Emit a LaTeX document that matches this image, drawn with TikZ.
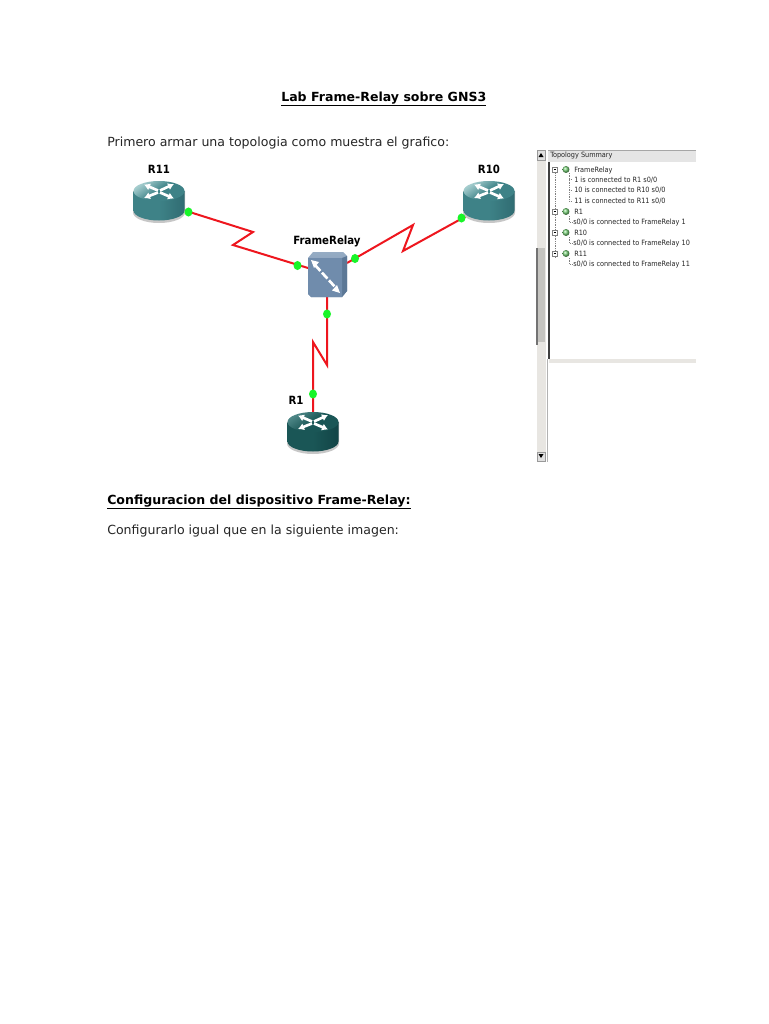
\documentclass[tikz,border=0pt]{standalone}
\usepackage{fontspec}
\setmainfont{DejaVu Sans}
\newfontfamily\condfont{DejaVu Sans Condensed}
\usetikzlibrary{calc,arrows.meta,shapes.geometric}
\definecolor{wire}{RGB}{238,22,30}
\definecolor{port}{RGB}{24,245,40}
\definecolor{tealA}{RGB}{62,130,135}
\definecolor{tealB}{RGB}{165,205,206}
\definecolor{tealC}{RGB}{48,108,114}
\definecolor{darkA}{RGB}{26,86,86}
\definecolor{darkB}{RGB}{78,135,135}
\definecolor{darkC}{RGB}{18,68,70}
\definecolor{switchF}{RGB}{112,140,172}
\definecolor{switchT}{RGB}{150,172,196}
\definecolor{switchS}{RGB}{92,120,150}
\definecolor{panelG}{RGB}{232,230,226}
\tikzset{
  x=0.75pt,y=-0.75pt,
  body/.style={font=\fontsize{9.42}{11}\selectfont,anchor=base west,inner sep=0pt,text=black!85},
  head/.style={font=\fontsize{9.42}{11}\selectfont\bfseries,anchor=base west,inner sep=0pt,text=black},
  devlabel/.style={font=\condfont\fontsize{8.5}{11}\selectfont\bfseries,inner sep=0pt,anchor=base,text=black},
  treetext/.style={font=\condfont\fontsize{5.44}{6}\selectfont,anchor=base west,inner sep=0pt,text=black!85},
  wireline/.style={draw=wire,line width=1.5pt,line join=miter},
  portdot/.style={ellipse,fill=port,inner sep=0pt,minimum width=6pt,minimum height=6.8pt},
  hit/.style={inner sep=0pt,minimum width=39pt,minimum height=31.5pt},
  treeline/.style={draw=black!50,line width=0.3pt,densely dotted},
  ledball/.style={circle,inner sep=0pt,minimum size=5.2pt,ball color=green!50!gray!70!white},
  expander/.style={draw=black!50,line width=0.3pt,fill=white,inner sep=0pt,minimum size=3.6pt},
  whitearrow/.style={draw=white,line width=2pt,-{Latex[length=4.5pt,width=5.5pt]}}
}
% router: name, cx, top y, body colour, light colour, edge colour
\newcommand{\routerdev}[6]{%
  \node[hit] (#1) at (#2,#3+21) {};
  \begin{scope}[shift={(#2,#3)}]
    \fill[black!22] (-26,10) -- (-26,31.5) arc[x radius=26,y radius=10.5,start angle=180,end angle=0] -- (26,10) -- cycle;
    \shade[left color=#4,right color=#6,middle color=#4] (-25.5,10) -- (-25.5,29.5) arc[x radius=25.5,y radius=10,start angle=180,end angle=0] -- (25.5,10) -- cycle;
    \shade[left color=#5,right color=#4,middle color=#4,shading angle=35] (0,10) ellipse[x radius=25.5,y radius=10];
    \draw[whitearrow] (-1,9.5) -- (-15,3.5);
    \draw[whitearrow] (1,9.5) -- (15,3);
    \draw[whitearrow] (-1,11.5) -- (-15,17);
    \draw[whitearrow] (1,11.5) -- (15,17.5);
  \end{scope}
}
\begin{document}
\begin{tikzpicture}
\useasboundingbox (0,0) rectangle (768,1024);
\fill[white] (0,0) rectangle (768,1024);

% page text
\node[head] (title) at (281,101) {\underline{Lab Frame-Relay sobre GNS3}};
\node[body] (intro) at (107,146) {Primero armar una topologia como muestra el grafico:};
\node[head] (cfghead) at (107,504) {\underline{Configuracion del dispositivo Frame-Relay:}};
\node[body] (cfgtext) at (107,534) {Configurarlo igual que en la siguiente imagen:};

% connector way points
\coordinate (a1) at (253,232); \coordinate (a2) at (233,245);
\coordinate (b1) at (413,225); \coordinate (b2) at (403,251);
\coordinate (c1) at (327,365); \coordinate (c2) at (313,342);
\coordinate (swW) at (308,268); \coordinate (swE) at (347,263); \coordinate (swS) at (327,297);
\coordinate (r11p) at (180,209); \coordinate (r10p) at (470,214); \coordinate (r1p) at (313,414);

% wires
\draw[wireline] (r11p) -- (a1) -- (a2) -- (swW);
\draw[wireline] (swE) -- (b1) -- (b2) -- (r10p);
\draw[wireline] (swS) -- (c1) -- (c2) -- (r1p);

% routers
\routerdev{R11}{159}{181}{tealA}{tealB}{tealC}
\routerdev{R10}{489}{181}{tealA}{tealB}{tealC}
\routerdev{R1}{313}{412}{darkA}{darkB}{darkC}

% switch
\node[inner sep=0pt,minimum width=29pt,minimum height=33pt] (FR) at (327.5,274.5) {};
\shade[top color=switchT,bottom color=switchF,line join=round] (308,258) -- (313,252) -- (343,252) -- (347,256) -- (347,291) -- (342,297) -- (311,297) -- (308,294) -- cycle;
\fill[switchS] (342,258) -- (347,256) -- (347,291) -- (342,297) -- cycle;
\fill[switchF] (308,258) -- (342,258) -- (342,297) -- (311,297) -- (308,294) -- cycle;
\draw[white,line width=2pt,dash pattern=on 6pt off 1.8pt] (315,265) -- (336,288);
\fill[white] (311,260) -- (319,262) -- (314,268) -- cycle;
\fill[white] (340,293) -- (332,290.5) -- (337,285) -- cycle;

% port dots
\node[portdot] (p11) at (188.5,212) {};
\node[portdot] (pW) at (297.5,265.5) {};
\node[portdot] (pE) at (355,258.5) {};
\node[portdot] (pS) at (327,314) {};
\node[portdot] (p1) at (313,394) {};
\node[portdot] (p10) at (461.5,218) {};

% device labels
\node[devlabel] (lR11) at (159,173) {R11};
\node[devlabel] (lR10) at (489,173) {R10};
\node[devlabel] (lFR) at (327,244) {FrameRelay};
\node[devlabel] (lR1) at (296,404) {R1};

% panel: scrollbar
\fill[panelG] (537,150) rectangle (546,462);
\fill[black!10] (548,150) rectangle (696,162);
\draw[black!35,line width=0.4pt] (548,150.5) -- (696,150.5);
\fill[black!30] (547,359) rectangle (548,462);
\fill[panelG!85!black] (537,248) rectangle (545,342);
\draw[black!55,line width=0.8pt] (537,248) -- (537,345);
\draw[black!75,line width=1pt] (549,162) -- (549,359);
\draw[black!40,line width=0.4pt,fill=black!12] (537,150) rectangle (545,160);
\fill[black] (541,153) -- (543.5,157) -- (538.5,157) -- cycle;
\draw[black!40,line width=0.4pt,fill=black!12] (537,452) rectangle (545,461);
\fill[black] (541,458) -- (543.5,454) -- (538.5,454) -- cycle;
\fill[panelG] (549,359) rectangle (696,363);
\node[treetext] (tsum) at (550,157.5) {Topology Summary};

% tree
\draw[treeline] (555,170) -- (555,258);
\draw[treeline] (569,173) -- (569,201);
\draw[treeline] (569,179) -- (572,179) (569,190) -- (572,190) (569,201) -- (572,201);
\draw[treeline] (569,216) -- (569,222) -- (572,222);
\draw[treeline] (569,237) -- (569,243) -- (572,243);
\draw[treeline] (569,258) -- (569,264) -- (572,264);
\foreach \nm/\yy/\tx in {f/169.5/FrameRelay,r/211.5/R1,t/232.5/R10,e/253.5/R11}{
  \node[expander] (x\nm) at (555,\yy) {\rule{2.2pt}{0.3pt}};
  \node[ledball] (led\nm) at (566,\yy) {};
  \node[treetext] (t\nm) at (574,\yy+2.5) {\tx};
}
\node[treetext] (c1t) at (574,182) {1 is connected to R1 s0/0};
\node[treetext] (c2t) at (574,192.5) {10 is connected to R10 s0/0};
\node[treetext] (c3t) at (574,203.5) {11 is connected to R11 s0/0};
\node[treetext] (c4t) at (573,224.5) {s0/0 is connected to FrameRelay 1};
\node[treetext] (c5t) at (573,245.5) {s0/0 is connected to FrameRelay 10};
\node[treetext] (c6t) at (573,266.5) {s0/0 is connected to FrameRelay 11};
\end{tikzpicture}
\end{document}
